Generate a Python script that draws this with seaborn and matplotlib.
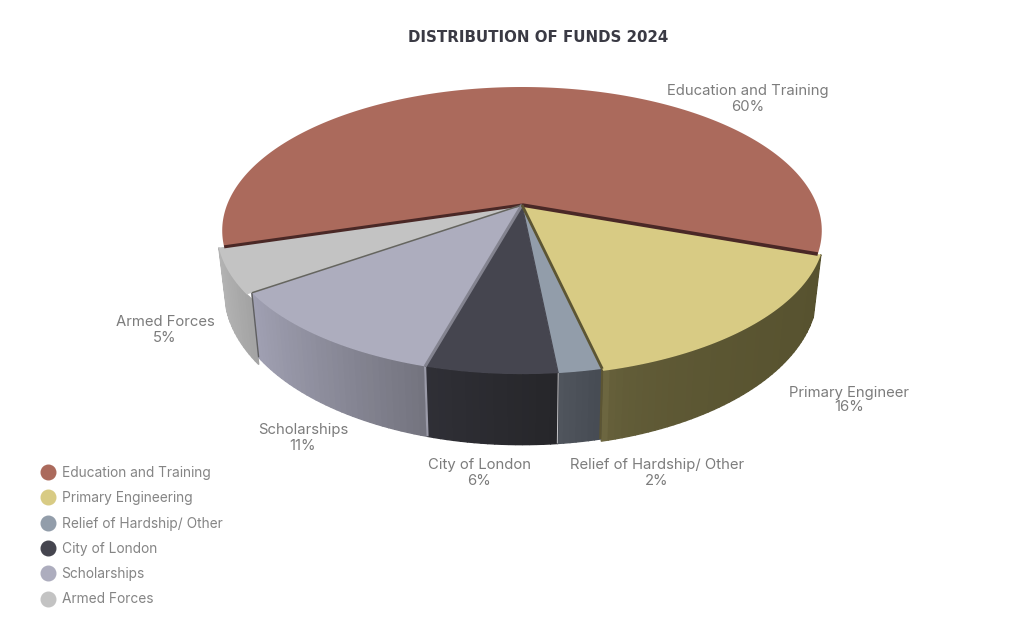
import numpy as np
import matplotlib
matplotlib.use("Agg")
import matplotlib.pyplot as plt
from matplotlib.lines import Line2D
import seaborn as sns

slices = ["Education and Training", "Primary Engineering", "Relief of Hardship/ Other",
          "City of London", "Scholarships", "Armed Forces"]
pie_labels = ["Education and Training", "Primary Engineer", "Relief of Hardship/ Other",
              "City of London", "Scholarships", "Armed Forces"]
values = [60, 16, 2, 6, 11, 5]

top_colors = ["#ab6a5c", "#d8cb84", "#929daa", "#45454f", "#adadbe", "#c3c3c3"]
side_left = ["#6e3c34", "#6c6640", "#50555d", "#2f2f36", "#a0a0b2", "#b4b4b4"]
side_right = ["#6e3c34", "#57522f", "#474c54", "#26262a", "#74747f", "#a4a4a4"]
side_gamma = [1, 0.3, 1, 1, 1, 1]
# slices stick out a little from the disc
radius = [1.0, 1.01, 1.0, 1.0, 1.0, 1.017]

label_x = [748, 849, 657, 479, 303, 165]
label_y = [99, 400, 473, 473, 438, 330]

# perspective disc, pixels
CX, CY = 522, 205
RX, RY = 295, 139
PERSP = 0.178
DEPTH = 58
START = -19.4

sns.set_theme(style="white")
plt.rcParams["font.family"] = ["Inter", "DejaVu Sans"]
palette = sns.color_palette(top_colors)

fig = plt.figure(figsize=(10.24, 6.28), dpi=100)
ax = fig.add_axes([0, 0, 1, 1])
ax.set_xlim(0, 1024)
ax.set_ylim(628, 0)
ax.axis("off")


def project(t, r=1.0, down=0.0):
    x = r * np.cos(t)
    y = r * np.sin(t)
    w = 1 / (1 + PERSP * y)
    shrink = 1 - 0.025 * (down > 0)
    return CX + RX * x * w * shrink, CY + (-RY * y + down) * w


def mix(a, b, f):
    a = np.array(matplotlib.colors.to_rgb(a))
    b = np.array(matplotlib.colors.to_rgb(b))
    return a + (b - a) * f


# going counter clockwise from START the slices come in this order
ccw = [0, 5, 4, 3, 2, 1]
ccw_values = [values[i] for i in ccw]
bounds = np.radians(START + np.concatenate([[0], np.cumsum(ccw_values)]) * 3.6)
a_from = {i: bounds[n] for n, i in enumerate(ccw)}
a_to = {i: bounds[n + 1] for n, i in enumerate(ccw)}

# side walls (the big slice shows no wall)
for i in [5, 1, 4, 2, 3]:
    a0, a1 = a_from[i], a_to[i]
    if i == 5:
        a1 += np.radians(2)  # closes the gap to the next wall
    ts = np.linspace(a0, a1, int(values[i] * 3) + 2)
    mids = (ts[:-1] + ts[1:]) / 2
    front = np.where(np.sin(mids) < 0)[0]
    lo, hi = np.cos(ts[front]).min(), np.cos(ts[front]).max()
    for k in front:
        tt = ts[k:k + 2]
        xt, yt = project(tt, r=radius[i])
        xb, yb = project(tt, r=radius[i], down=DEPTH)
        f = (np.cos(ts[k]) - lo) / max(hi - lo, 1e-6)
        ax.fill(np.r_[xt, xb[::-1]], np.r_[yt, yb[::-1]],
                color=mix(side_left[i], side_right[i], f ** side_gamma[i]), lw=1.0, zorder=2)

for i in [0, 5, 1, 4, 2, 3]:
    tt = np.linspace(a_from[i], a_to[i], 200)
    xt, yt = project(tt, r=radius[i])
    ax.fill(np.r_[CX, xt], np.r_[CY, yt], color=palette[i], lw=0, zorder=3)


def spoke(angle, r, color, lw):
    xe, ye = project(angle, r=r)
    ax.plot([CX, xe], [CY, ye], color=color, lw=lw, zorder=4, solid_capstyle="butt")


def seam(angle, r, color, lw):
    xt, yt = project(angle, r=r)
    xb, yb = project(angle, r=r, down=DEPTH)
    ax.plot([xt, xb], [yt, yb], color=color, lw=lw, zorder=2.5, solid_capstyle="butt")


spoke(a_from[0], 1.0, "#4a2826", 2.6)
spoke(a_to[0], 1.0, "#4a2826", 2.2)
spoke(a_to[5], 1.0, "#65655f", 1.1)
spoke(a_to[4], 1.0, "#83838f", 2.2)
spoke(a_to[3], 1.0, "#45454f", 0.8)
spoke(a_to[2], 1.0, "#5c5533", 2.0)

seam(a_to[5], 1.0, "#5f5f5f", 1.0)
seam(a_to[4], 1.0, "#9a9aa8", 1.6)
seam(a_to[3], 1.0, "#c8c8cc", 0.7)
seam(a_to[2], 1.0, "#5c5533", 1.6)

for name, v, x, y in zip(pie_labels, values, label_x, label_y):
    ax.text(x, y, f"{name}\n{v}%", ha="center", va="center", fontsize=10.7,
            color="#7c7c7c", linespacing=0.95 if name == "Primary Engineer" else 1.1)

ax.text(538, 38, "DISTRIBUTION OF FUNDS 2024", ha="center", va="center", fontsize=10.8,
        fontweight="bold", family="DejaVu Sans", color="#3a3a44")

handles = [Line2D([], [], ls="", marker="o", ms=10.5, mfc=c, mec=c) for c in palette]
ax.legend(handles, slices, loc="upper left", bbox_to_anchor=(0.04, 0.258), frameon=False,
          fontsize=9.9, labelcolor="#858585", handlelength=1.0, handletextpad=0.5,
          labelspacing=0.82, borderpad=0, borderaxespad=0)

fig.savefig("out.png", dpi=100)
